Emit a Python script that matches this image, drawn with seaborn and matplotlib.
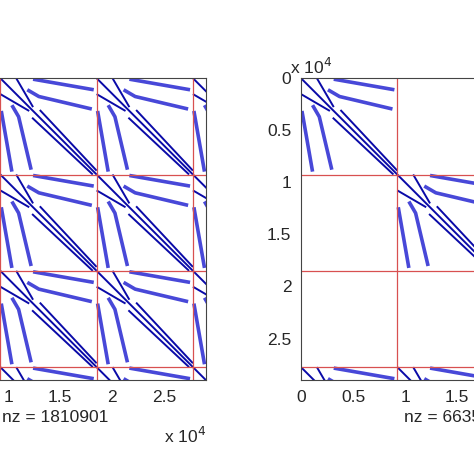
import matplotlib
matplotlib.use("Agg")
import matplotlib.pyplot as plt
import seaborn as sns

# block pattern in block-local coordinates (col, row), 0..1
dark_segments = [
    [(0.0, 0.0), (1.0, 1.0)],
    [(0.165, 0.0), (0.34, 0.30)],
    [(0.0, 0.165), (0.30, 0.34)],
    [(0.41, 0.33), (1.0, 0.96)],
    [(0.33, 0.41), (0.96, 1.0)],
]
light_segments = [
    [(0.34, 0.01), (0.97, 0.12)],
    [(0.28, 0.12), (0.40, 0.19), (0.95, 0.32)],
    [(0.01, 0.34), (0.12, 0.97)],
    [(0.12, 0.28), (0.19, 0.40), (0.32, 0.95)],
]
block_size = 0.925      # x 10^4
n_total = 2.9           # x 10^4
left_blocks = [(i, j) for i in range(4) for j in range(4)]
right_blocks = [(i, i) for i in range(4)] + [(3, j) for j in range(3)] + [(j, 3) for j in range(3)]
nz_left = "nz = 1810901"
nz_right = "nz = 663552"
tick_vals = [0, 0.5, 1, 1.5, 2, 2.5]
tick_text = ["0", "0.5", "1", "1.5", "2", "2.5"]

sns.set_style("white")
plt.rcParams['font.family'] = ['Liberation Sans', 'DejaVu Sans']

fig = plt.figure(figsize=(4.74, 4.74), dpi=100)
ax_l = fig.add_axes([-0.2025, 0.198, 0.637, 0.637])
ax_r = fig.add_axes([0.635, 0.198, 0.637, 0.637])


def draw_spy(ax, blocks, nz):
    for bi, bj in blocks:
        for segs, col, lw in [(light_segments, "#4848d8", 2.6), (dark_segments, "#0a0aa8", 1.4)]:
            for seg in segs:
                xs = [(bj + c) * block_size for c, r in seg]
                ys = [(bi + r) * block_size for c, r in seg]
                sns.lineplot(x=xs, y=ys, ax=ax, color=col, lw=lw, sort=False,
                             estimator=None, solid_capstyle="butt")
    for k in range(1, 4):
        ax.axvline(k * block_size, color="#d85050", lw=0.9)
        ax.axhline(k * block_size, color="#d85050", lw=0.9)
    ax.set_xlim(0, n_total)
    ax.set_ylim(n_total, 0)
    ax.set_xticks(tick_vals)
    ax.set_yticks(tick_vals)
    ax.set_xticklabels(tick_text)
    ax.set_yticklabels(tick_text)
    ax.tick_params(direction="in", length=3, labelsize=12.5, pad=7, color="#444444")
    for s in ax.spines.values():
        s.set_color("#444444")
        s.set_linewidth(0.8)
    ax.set_xlabel(nz, fontsize=12.5, labelpad=4)


draw_spy(ax_l, left_blocks, nz_left)
draw_spy(ax_r, right_blocks, nz_right)

ax_l.text(0.93, -0.15, r"x 10$^4$", transform=ax_l.transAxes, fontsize=12.5, ha="center", va="top")
ax_r.text(-0.035, 1.005, r"x 10$^4$", transform=ax_r.transAxes, fontsize=12.5, ha="left", va="bottom")

fig.savefig("out.png", dpi=100)
